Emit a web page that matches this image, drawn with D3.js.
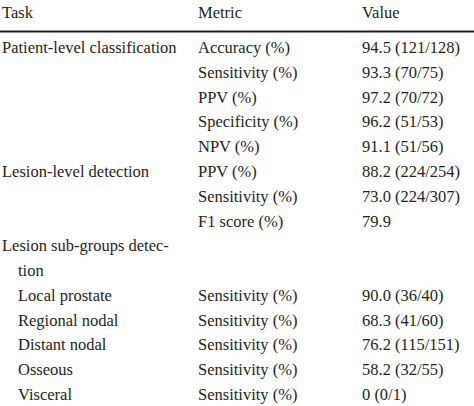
<!DOCTYPE html>
<html>
<head>
<meta charset="utf-8">
<script src="https://cdn.jsdelivr.net/npm/d3@7"></script>
<style>
  body { margin: 0; background: #fff; }
</style>
</head>
<body>
<svg id="t" width="474" height="406"></svg>
<script>
const headers = ['Task', 'Metric', 'Value'];
// one entry per text line; empty strings where a cell is blank
const tasks = ['Patient-level classification', '', '', '', '', 'Lesion-level detection', '', '',
  'Lesion sub-groups detec-', 'tion', 'Local prostate', 'Regional nodal', 'Distant nodal', 'Osseous', 'Visceral'];
const indent = [0, 0, 0, 0, 0, 0, 0, 0, 0, 1, 1, 1, 1, 1, 1];
const metrics = ['Accuracy (%)', 'Sensitivity (%)', 'PPV (%)', 'Specificity (%)', 'NPV (%)',
  'PPV (%)', 'Sensitivity (%)', 'F1 score (%)', '', '',
  'Sensitivity (%)', 'Sensitivity (%)', 'Sensitivity (%)', 'Sensitivity (%)', 'Sensitivity (%)'];
const values = ['94.5 (121/128)', '93.3 (70/75)', '97.2 (70/72)', '96.2 (51/53)', '91.1 (51/56)',
  '88.2 (224/254)', '73.0 (224/307)', '79.9', '', '',
  '90.0 (36/40)', '68.3 (41/60)', '76.2 (115/151)', '58.2 (32/55)', '0 (0/1)'];

const svg = d3.select('#t')
  .attr('font-family', "'Liberation Serif', 'DejaVu Serif', serif")
  .attr('font-size', 16.5)
  .attr('fill', '#231f20');
const x = d3.scaleOrdinal().domain(headers).range([2, 198, 362]);
const y = d3.scaleLinear().domain([0, tasks.length - 1]).range([53, 400]);

svg.selectAll('text.h').data(headers).join('text')
  .attr('class', 'h').attr('x', d => x(d)).attr('y', 18).text(d => d);

svg.append('line').attr('x1', 0).attr('x2', 474).attr('y1', 31.5).attr('y2', 31.5)
  .attr('stroke', '#231f20').attr('stroke-width', 1.8);

const rows = d3.range(tasks.length);
const g = svg.selectAll('g.r').data(rows).join('g').attr('class', 'r')
  .attr('transform', i => `translate(0,${y(i)})`);
g.append('text').attr('x', i => x('Task') + indent[i] * 16).text(i => tasks[i]);
g.append('text').attr('x', x('Metric')).text(i => metrics[i]);
g.append('text').attr('x', x('Value')).text(i => values[i]);
</script>
</body>
</html>
